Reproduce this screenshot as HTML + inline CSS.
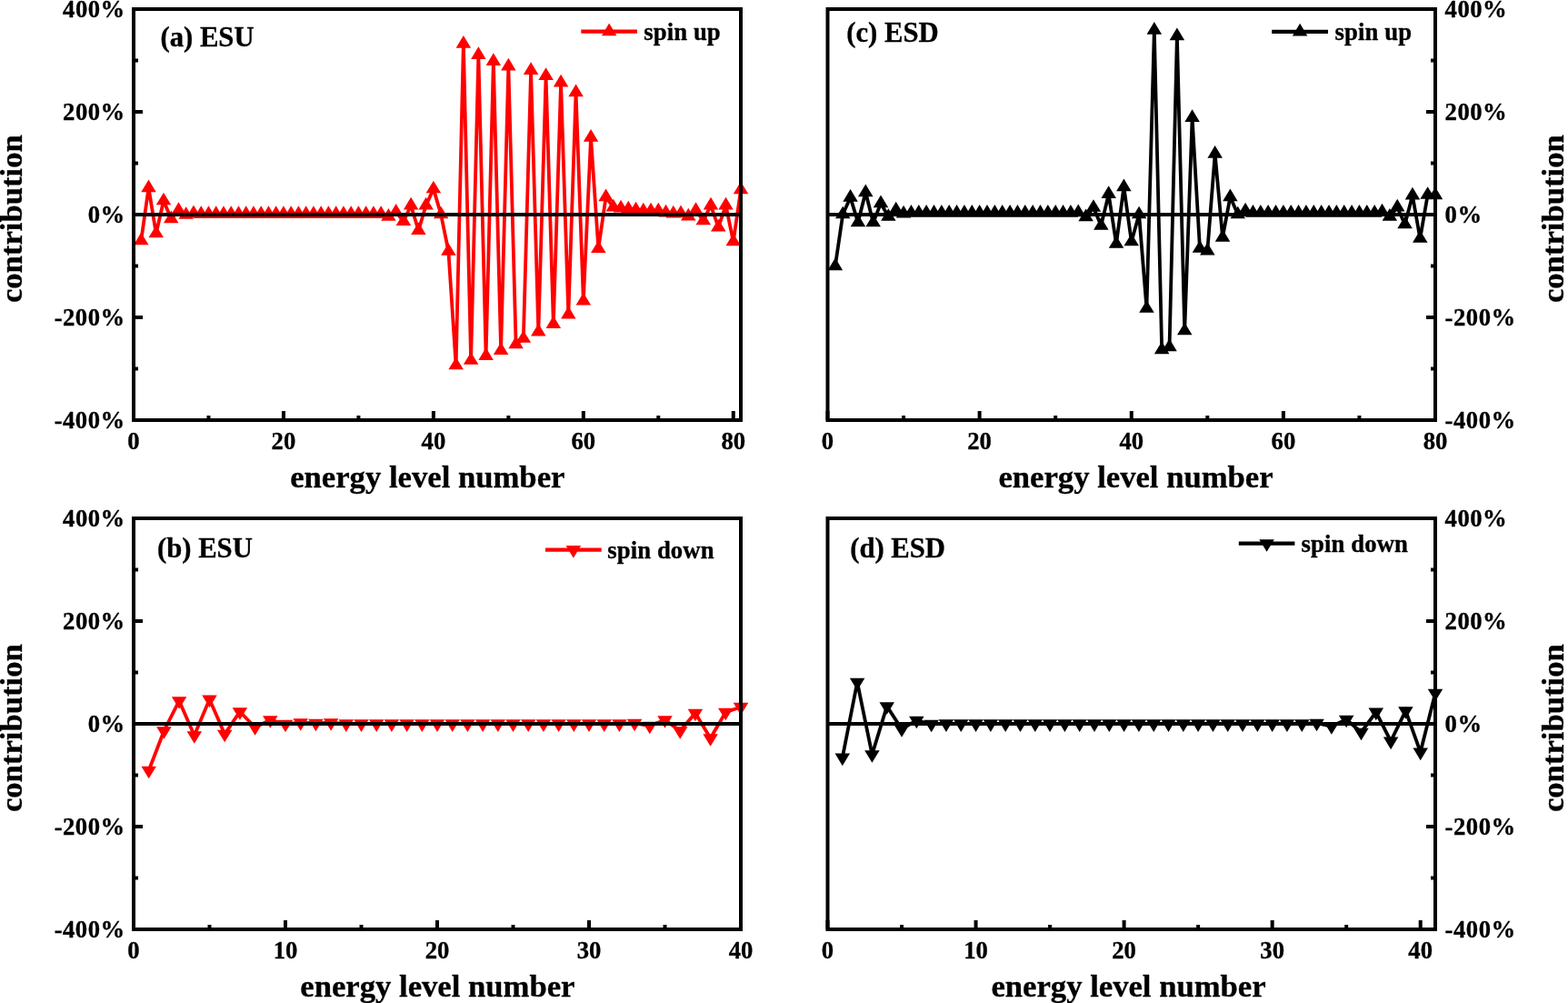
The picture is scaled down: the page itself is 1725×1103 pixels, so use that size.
<!DOCTYPE html>
<html lang="en"><head><meta charset="utf-8"><title>Contribution vs energy level number</title>
<style>html,body{margin:0;padding:0;background:#fff}body{width:1725px;height:1103px;overflow:hidden}svg{display:block}text{font-family:'Liberation Serif', serif;font-weight:bold;fill:#000;stroke:#000;stroke-width:0.35px;stroke-linejoin:round}.t{font-size:26.67px}.ax{font-size:34.67px}.pl{font-size:30.67px}</style></head><body>
<svg width="1725" height="1103" viewBox="0 0 1725 1103">
<rect width="1725" height="1103" fill="#fff"/>
<g id="panel-a">
<polyline fill="none" stroke="#ff0000" stroke-width="3.8" stroke-linejoin="miter" stroke-miterlimit="3" points="155.25,264.78 163.49,206.58 171.74,256.78 179.99,220.78 188.23,240.58 196.48,231.38 204.73,236.28 212.98,234.58 221.22,235.38 229.47,235.38 237.72,235.38 245.96,235.38 254.21,235.38 262.46,235.38 270.7,235.38 278.95,235.38 287.2,235.38 295.44,235.38 303.69,235.38 311.94,235.38 320.19,235.38 328.43,235.38 336.68,235.38 344.93,235.38 353.17,235.38 361.42,235.38 369.67,235.38 377.91,235.38 386.16,235.38 394.41,235.38 402.65,235.38 410.9,235.38 419.15,235.38 427.4,238.18 435.64,233.18 443.89,243.48 452.14,225.98 460.38,253.48 468.63,225.98 476.88,207.78 485.12,235.78 493.37,276.28 501.62,401.78 509.86,48.18 518.11,396.28 526.36,60.48 534.6,391.48 542.85,67.48 551.1,385.48 559.35,72.98 567.59,378.58 575.84,372.28 584.09,77.48 592.33,364.88 600.58,83.48 608.83,356.48 617.07,90.88 625.32,345.98 633.57,101.58 641.81,330.88 650.06,151.08 658.31,273.38 666.56,216.58 674.8,227.98 683.05,228.98 691.3,229.98 699.54,230.98 707.79,231.98 716.04,231.98 724.28,231.98 732.53,233.98 740.78,234.98 749.02,234.58 757.27,237.88 765.52,231.38 773.77,242.58 782.01,225.98 790.26,249.98 798.51,225.98 806.75,265.58 815,208.78"/>
<path fill="#ff0000" d="M155.25 255.65 L147 269.35 L163.5 269.35ZM163.49 197.45 L155.24 211.15 L171.74 211.15ZM171.74 247.65 L163.49 261.35 L179.99 261.35ZM179.99 211.65 L171.74 225.35 L188.24 225.35ZM188.23 231.45 L179.98 245.15 L196.48 245.15ZM196.48 222.25 L188.23 235.95 L204.73 235.95ZM204.73 227.15 L196.48 240.85 L212.98 240.85ZM212.98 225.45 L204.73 239.15 L221.23 239.15ZM221.22 226.25 L212.97 239.95 L229.47 239.95ZM229.47 226.25 L221.22 239.95 L237.72 239.95ZM237.72 226.25 L229.47 239.95 L245.97 239.95ZM245.96 226.25 L237.71 239.95 L254.21 239.95ZM254.21 226.25 L245.96 239.95 L262.46 239.95ZM262.46 226.25 L254.21 239.95 L270.71 239.95ZM270.7 226.25 L262.45 239.95 L278.95 239.95ZM278.95 226.25 L270.7 239.95 L287.2 239.95ZM287.2 226.25 L278.95 239.95 L295.45 239.95ZM295.44 226.25 L287.19 239.95 L303.69 239.95ZM303.69 226.25 L295.44 239.95 L311.94 239.95ZM311.94 226.25 L303.69 239.95 L320.19 239.95ZM320.19 226.25 L311.94 239.95 L328.44 239.95ZM328.43 226.25 L320.18 239.95 L336.68 239.95ZM336.68 226.25 L328.43 239.95 L344.93 239.95ZM344.93 226.25 L336.68 239.95 L353.18 239.95ZM353.17 226.25 L344.92 239.95 L361.42 239.95ZM361.42 226.25 L353.17 239.95 L369.67 239.95ZM369.67 226.25 L361.42 239.95 L377.92 239.95ZM377.91 226.25 L369.66 239.95 L386.16 239.95ZM386.16 226.25 L377.91 239.95 L394.41 239.95ZM394.41 226.25 L386.16 239.95 L402.66 239.95ZM402.65 226.25 L394.4 239.95 L410.9 239.95ZM410.9 226.25 L402.65 239.95 L419.15 239.95ZM419.15 226.25 L410.9 239.95 L427.4 239.95ZM427.4 229.05 L419.15 242.75 L435.65 242.75ZM435.64 224.05 L427.39 237.75 L443.89 237.75ZM443.89 234.35 L435.64 248.05 L452.14 248.05ZM452.14 216.85 L443.89 230.55 L460.39 230.55ZM460.38 244.35 L452.13 258.05 L468.63 258.05ZM468.63 216.85 L460.38 230.55 L476.88 230.55ZM476.88 198.65 L468.63 212.35 L485.13 212.35ZM485.12 226.65 L476.87 240.35 L493.37 240.35ZM493.37 267.15 L485.12 280.85 L501.62 280.85ZM501.62 392.65 L493.37 406.35 L509.87 406.35ZM509.86 39.05 L501.61 52.75 L518.11 52.75ZM518.11 387.15 L509.86 400.85 L526.36 400.85ZM526.36 51.35 L518.11 65.05 L534.61 65.05ZM534.6 382.35 L526.35 396.05 L542.85 396.05ZM542.85 58.35 L534.6 72.05 L551.1 72.05ZM551.1 376.35 L542.85 390.05 L559.35 390.05ZM559.35 63.85 L551.1 77.55 L567.6 77.55ZM567.59 369.45 L559.34 383.15 L575.84 383.15ZM575.84 363.15 L567.59 376.85 L584.09 376.85ZM584.09 68.35 L575.84 82.05 L592.34 82.05ZM592.33 355.75 L584.08 369.45 L600.58 369.45ZM600.58 74.35 L592.33 88.05 L608.83 88.05ZM608.83 347.35 L600.58 361.05 L617.08 361.05ZM617.07 81.75 L608.82 95.45 L625.32 95.45ZM625.32 336.85 L617.07 350.55 L633.57 350.55ZM633.57 92.45 L625.32 106.15 L641.82 106.15ZM641.81 321.75 L633.56 335.45 L650.06 335.45ZM650.06 141.95 L641.81 155.65 L658.31 155.65ZM658.31 264.25 L650.06 277.95 L666.56 277.95ZM666.56 207.45 L658.31 221.15 L674.81 221.15ZM674.8 218.85 L666.55 232.55 L683.05 232.55ZM683.05 219.85 L674.8 233.55 L691.3 233.55ZM691.3 220.85 L683.05 234.55 L699.55 234.55ZM699.54 221.85 L691.29 235.55 L707.79 235.55ZM707.79 222.85 L699.54 236.55 L716.04 236.55ZM716.04 222.85 L707.79 236.55 L724.29 236.55ZM724.28 222.85 L716.03 236.55 L732.53 236.55ZM732.53 224.85 L724.28 238.55 L740.78 238.55ZM740.78 225.85 L732.53 239.55 L749.03 239.55ZM749.02 225.45 L740.77 239.15 L757.27 239.15ZM757.27 228.75 L749.02 242.45 L765.52 242.45ZM765.52 222.25 L757.27 235.95 L773.77 235.95ZM773.77 233.45 L765.52 247.15 L782.02 247.15ZM782.01 216.85 L773.76 230.55 L790.26 230.55ZM790.26 240.85 L782.01 254.55 L798.51 254.55ZM798.51 216.85 L790.26 230.55 L806.76 230.55ZM806.75 256.45 L798.5 270.15 L815 270.15ZM815 199.65 L806.75 213.35 L823.25 213.35Z"/>
<line x1="147" y1="236" x2="815" y2="236" stroke="#000" stroke-width="4"/>
<rect x="147" y="10" width="668" height="452" fill="none" stroke="#000" stroke-width="4"/>
<path d="M147 462 V452 M311.94 462 V452 M476.88 462 V452 M641.81 462 V452 M806.75 462 V452 M229.47 462 V457 M394.41 462 V457 M559.35 462 V457 M724.28 462 V457 M147 10 H157 M147 66.5 H152 M147 123 H157 M147 179.5 H152 M147 236 H157 M147 292.5 H152 M147 349 H157 M147 405.5 H152 M147 462 H157" stroke="#000" stroke-width="4" fill="none"/>
<text class="t" x="147" y="493.8" text-anchor="middle">0</text>
<text class="t" x="311.94" y="493.8" text-anchor="middle">20</text>
<text class="t" x="476.88" y="493.8" text-anchor="middle">40</text>
<text class="t" x="641.81" y="493.8" text-anchor="middle">60</text>
<text class="t" x="806.75" y="493.8" text-anchor="middle">80</text>
<text class="t" x="137.7" y="18.5" text-anchor="end" letter-spacing="0.5">400%</text>
<text class="t" x="137.7" y="131.5" text-anchor="end" letter-spacing="0.5">200%</text>
<text class="t" x="137.7" y="244.5" text-anchor="end" letter-spacing="0.5">0%</text>
<text class="t" x="137.7" y="357.5" text-anchor="end" letter-spacing="0.5">-200%</text>
<text class="t" x="137.7" y="470.5" text-anchor="end" letter-spacing="0.5">-400%</text>
<text class="ax" x="470.3" y="535.8" text-anchor="middle">energy level number</text>
<text class="ax" transform="translate(24 240.7) rotate(-90)" text-anchor="middle">contribution</text>
<text class="pl" x="176.5" y="51">(a) ESU</text>
<line x1="639.3" y1="34.7" x2="701" y2="34.7" stroke="#ff0000" stroke-width="4.2"/>
<path fill="#ff0000" d="M670.15 25.57 L661.9 39.27 L678.4 39.27Z"/>
<text class="t" x="708.2" y="43.8" letter-spacing="0.12">spin up</text>
</g>
<g id="panel-c">
<polyline fill="none" stroke="#000000" stroke-width="3.8" stroke-linejoin="miter" stroke-miterlimit="3" points="918.86,292.58 927.21,235.78 935.57,217.08 943.92,244.58 952.28,211.58 960.64,244.78 968.99,223.58 977.35,238.28 985.71,230.98 994.06,234.98 1002.42,234.08 1010.77,234.08 1019.13,234.08 1027.49,234.08 1035.84,234.08 1044.2,234.08 1052.56,234.08 1060.91,234.08 1069.27,234.08 1077.62,234.08 1085.98,234.08 1094.34,234.08 1102.69,234.08 1111.05,234.08 1119.41,234.08 1127.76,234.08 1136.12,234.08 1144.47,234.08 1152.83,234.08 1161.19,234.08 1169.54,234.08 1177.9,234.08 1186.26,233.58 1194.61,238.68 1202.97,228.28 1211.33,248.08 1219.68,213.48 1228.04,268.28 1236.39,205.58 1244.75,265.78 1253.11,235.78 1261.46,339.28 1269.82,33.08 1278.17,384.58 1286.53,381.58 1294.89,39.68 1303.24,363.78 1311.6,129.48 1319.96,273.28 1328.31,275.88 1336.67,169.08 1345.03,261.08 1353.38,216.58 1361.74,235.78 1370.09,231.98 1378.45,234.08 1386.81,234.08 1395.16,234.08 1403.52,234.08 1411.88,234.08 1420.23,234.08 1428.59,234.08 1436.94,234.08 1445.3,234.08 1453.66,234.08 1462.01,234.08 1470.37,234.08 1478.72,234.08 1487.08,234.08 1495.44,234.08 1503.79,234.08 1512.15,234.08 1520.51,232.98 1528.86,238.08 1537.22,227.98 1545.57,246.68 1553.93,214.98 1562.29,262.28 1570.64,214.28 1579,214.78"/>
<path fill="#000000" d="M918.86 283.45 L910.61 297.15 L927.11 297.15ZM927.21 226.65 L918.96 240.35 L935.46 240.35ZM935.57 207.95 L927.32 221.65 L943.82 221.65ZM943.92 235.45 L935.67 249.15 L952.17 249.15ZM952.28 202.45 L944.03 216.15 L960.53 216.15ZM960.64 235.65 L952.39 249.35 L968.89 249.35ZM968.99 214.45 L960.74 228.15 L977.24 228.15ZM977.35 229.15 L969.1 242.85 L985.6 242.85ZM985.71 221.85 L977.46 235.55 L993.96 235.55ZM994.06 225.85 L985.81 239.55 L1002.31 239.55ZM1002.42 224.95 L994.17 238.65 L1010.67 238.65ZM1010.77 224.95 L1002.52 238.65 L1019.02 238.65ZM1019.13 224.95 L1010.88 238.65 L1027.38 238.65ZM1027.49 224.95 L1019.24 238.65 L1035.74 238.65ZM1035.84 224.95 L1027.59 238.65 L1044.09 238.65ZM1044.2 224.95 L1035.95 238.65 L1052.45 238.65ZM1052.56 224.95 L1044.31 238.65 L1060.81 238.65ZM1060.91 224.95 L1052.66 238.65 L1069.16 238.65ZM1069.27 224.95 L1061.02 238.65 L1077.52 238.65ZM1077.62 224.95 L1069.38 238.65 L1085.88 238.65ZM1085.98 224.95 L1077.73 238.65 L1094.23 238.65ZM1094.34 224.95 L1086.09 238.65 L1102.59 238.65ZM1102.69 224.95 L1094.44 238.65 L1110.94 238.65ZM1111.05 224.95 L1102.8 238.65 L1119.3 238.65ZM1119.41 224.95 L1111.16 238.65 L1127.66 238.65ZM1127.76 224.95 L1119.51 238.65 L1136.01 238.65ZM1136.12 224.95 L1127.87 238.65 L1144.37 238.65ZM1144.47 224.95 L1136.22 238.65 L1152.72 238.65ZM1152.83 224.95 L1144.58 238.65 L1161.08 238.65ZM1161.19 224.95 L1152.94 238.65 L1169.44 238.65ZM1169.54 224.95 L1161.29 238.65 L1177.79 238.65ZM1177.9 224.95 L1169.65 238.65 L1186.15 238.65ZM1186.26 224.45 L1178.01 238.15 L1194.51 238.15ZM1194.61 229.55 L1186.36 243.25 L1202.86 243.25ZM1202.97 219.15 L1194.72 232.85 L1211.22 232.85ZM1211.33 238.95 L1203.08 252.65 L1219.58 252.65ZM1219.68 204.35 L1211.43 218.05 L1227.93 218.05ZM1228.04 259.15 L1219.79 272.85 L1236.29 272.85ZM1236.39 196.45 L1228.14 210.15 L1244.64 210.15ZM1244.75 256.65 L1236.5 270.35 L1253 270.35ZM1253.11 226.65 L1244.86 240.35 L1261.36 240.35ZM1261.46 330.15 L1253.21 343.85 L1269.71 343.85ZM1269.82 23.95 L1261.57 37.65 L1278.07 37.65ZM1278.17 375.45 L1269.92 389.15 L1286.42 389.15ZM1286.53 372.45 L1278.28 386.15 L1294.78 386.15ZM1294.89 30.55 L1286.64 44.25 L1303.14 44.25ZM1303.24 354.65 L1294.99 368.35 L1311.49 368.35ZM1311.6 120.35 L1303.35 134.05 L1319.85 134.05ZM1319.96 264.15 L1311.71 277.85 L1328.21 277.85ZM1328.31 266.75 L1320.06 280.45 L1336.56 280.45ZM1336.67 159.95 L1328.42 173.65 L1344.92 173.65ZM1345.03 251.95 L1336.78 265.65 L1353.28 265.65ZM1353.38 207.45 L1345.13 221.15 L1361.63 221.15ZM1361.74 226.65 L1353.49 240.35 L1369.99 240.35ZM1370.09 222.85 L1361.84 236.55 L1378.34 236.55ZM1378.45 224.95 L1370.2 238.65 L1386.7 238.65ZM1386.81 224.95 L1378.56 238.65 L1395.06 238.65ZM1395.16 224.95 L1386.91 238.65 L1403.41 238.65ZM1403.52 224.95 L1395.27 238.65 L1411.77 238.65ZM1411.88 224.95 L1403.62 238.65 L1420.12 238.65ZM1420.23 224.95 L1411.98 238.65 L1428.48 238.65ZM1428.59 224.95 L1420.34 238.65 L1436.84 238.65ZM1436.94 224.95 L1428.69 238.65 L1445.19 238.65ZM1445.3 224.95 L1437.05 238.65 L1453.55 238.65ZM1453.66 224.95 L1445.41 238.65 L1461.91 238.65ZM1462.01 224.95 L1453.76 238.65 L1470.26 238.65ZM1470.37 224.95 L1462.12 238.65 L1478.62 238.65ZM1478.72 224.95 L1470.47 238.65 L1486.97 238.65ZM1487.08 224.95 L1478.83 238.65 L1495.33 238.65ZM1495.44 224.95 L1487.19 238.65 L1503.69 238.65ZM1503.79 224.95 L1495.54 238.65 L1512.04 238.65ZM1512.15 224.95 L1503.9 238.65 L1520.4 238.65ZM1520.51 223.85 L1512.26 237.55 L1528.76 237.55ZM1528.86 228.95 L1520.61 242.65 L1537.11 242.65ZM1537.22 218.85 L1528.97 232.55 L1545.47 232.55ZM1545.57 237.55 L1537.32 251.25 L1553.82 251.25ZM1553.93 205.85 L1545.68 219.55 L1562.18 219.55ZM1562.29 253.15 L1554.04 266.85 L1570.54 266.85ZM1570.64 205.15 L1562.39 218.85 L1578.89 218.85ZM1579 205.65 L1570.75 219.35 L1587.25 219.35Z"/>
<line x1="910.5" y1="236" x2="1579" y2="236" stroke="#000" stroke-width="4"/>
<rect x="910.5" y="10" width="668.5" height="452" fill="none" stroke="#000" stroke-width="4"/>
<path d="M910.5 462 V452 M1077.62 462 V452 M1244.75 462 V452 M1411.88 462 V452 M1579 462 V452 M994.06 462 V457 M1161.19 462 V457 M1328.31 462 V457 M1495.44 462 V457 M1579 10 H1569 M1579 66.5 H1574 M1579 123 H1569 M1579 179.5 H1574 M1579 236 H1569 M1579 292.5 H1574 M1579 349 H1569 M1579 405.5 H1574 M1579 462 H1569" stroke="#000" stroke-width="4" fill="none"/>
<text class="t" x="910.5" y="493.8" text-anchor="middle">0</text>
<text class="t" x="1077.62" y="493.8" text-anchor="middle">20</text>
<text class="t" x="1244.75" y="493.8" text-anchor="middle">40</text>
<text class="t" x="1411.88" y="493.8" text-anchor="middle">60</text>
<text class="t" x="1579" y="493.8" text-anchor="middle">80</text>
<text class="t" x="1589.6" y="18.5" letter-spacing="0.5">400%</text>
<text class="t" x="1589.6" y="131.5" letter-spacing="0.5">200%</text>
<text class="t" x="1589.6" y="244.5" letter-spacing="0.5">0%</text>
<text class="t" x="1589.6" y="357.5" letter-spacing="0.5">-200%</text>
<text class="t" x="1589.6" y="470.5" letter-spacing="0.5">-400%</text>
<text class="ax" x="1249.5" y="535.6" text-anchor="middle">energy level number</text>
<text class="ax" transform="translate(1720 240.7) rotate(-90)" text-anchor="middle">contribution</text>
<text class="pl" x="931.3" y="45.6">(c) ESD</text>
<line x1="1399.2" y1="34.85" x2="1461" y2="34.85" stroke="#000000" stroke-width="4.2"/>
<path fill="#000000" d="M1430.1 25.72 L1421.85 39.42 L1438.35 39.42Z"/>
<text class="t" x="1468.6" y="44.2" letter-spacing="0.12">spin up</text>
</g>
<g id="panel-b">
<polyline fill="none" stroke="#ff0000" stroke-width="3.8" stroke-linejoin="miter" stroke-miterlimit="3" points="163.7,847.22 180.4,803.72 197.1,770.72 213.8,808.72 230.5,769.02 247.2,807.22 263.9,782.72 280.6,799.72 297.3,791.72 314,796.22 330.7,794.72 347.4,795.22 364.1,794.72 380.8,795.92 397.5,795.92 414.2,795.92 430.9,795.92 447.6,795.92 464.3,795.92 481,795.92 497.7,795.92 514.4,795.92 531.1,795.92 547.8,795.92 564.5,795.92 581.2,795.92 597.9,795.92 614.6,795.92 631.3,795.92 648,795.92 664.7,795.92 681.4,795.92 698.1,795.22 714.8,798.22 731.5,791.72 748.2,803.72 764.9,784.22 781.6,811.72 798.3,783.22 815,777.42"/>
<path fill="#ff0000" d="M163.7 856.35 L155.45 842.65 L171.95 842.65ZM180.4 812.85 L172.15 799.15 L188.65 799.15ZM197.1 779.85 L188.85 766.15 L205.35 766.15ZM213.8 817.85 L205.55 804.15 L222.05 804.15ZM230.5 778.15 L222.25 764.45 L238.75 764.45ZM247.2 816.35 L238.95 802.65 L255.45 802.65ZM263.9 791.85 L255.65 778.15 L272.15 778.15ZM280.6 808.85 L272.35 795.15 L288.85 795.15ZM297.3 800.85 L289.05 787.15 L305.55 787.15ZM314 805.35 L305.75 791.65 L322.25 791.65ZM330.7 803.85 L322.45 790.15 L338.95 790.15ZM347.4 804.35 L339.15 790.65 L355.65 790.65ZM364.1 803.85 L355.85 790.15 L372.35 790.15ZM380.8 805.05 L372.55 791.35 L389.05 791.35ZM397.5 805.05 L389.25 791.35 L405.75 791.35ZM414.2 805.05 L405.95 791.35 L422.45 791.35ZM430.9 805.05 L422.65 791.35 L439.15 791.35ZM447.6 805.05 L439.35 791.35 L455.85 791.35ZM464.3 805.05 L456.05 791.35 L472.55 791.35ZM481 805.05 L472.75 791.35 L489.25 791.35ZM497.7 805.05 L489.45 791.35 L505.95 791.35ZM514.4 805.05 L506.15 791.35 L522.65 791.35ZM531.1 805.05 L522.85 791.35 L539.35 791.35ZM547.8 805.05 L539.55 791.35 L556.05 791.35ZM564.5 805.05 L556.25 791.35 L572.75 791.35ZM581.2 805.05 L572.95 791.35 L589.45 791.35ZM597.9 805.05 L589.65 791.35 L606.15 791.35ZM614.6 805.05 L606.35 791.35 L622.85 791.35ZM631.3 805.05 L623.05 791.35 L639.55 791.35ZM648 805.05 L639.75 791.35 L656.25 791.35ZM664.7 805.05 L656.45 791.35 L672.95 791.35ZM681.4 805.05 L673.15 791.35 L689.65 791.35ZM698.1 804.35 L689.85 790.65 L706.35 790.65ZM714.8 807.35 L706.55 793.65 L723.05 793.65ZM731.5 800.85 L723.25 787.15 L739.75 787.15ZM748.2 812.85 L739.95 799.15 L756.45 799.15ZM764.9 793.35 L756.65 779.65 L773.15 779.65ZM781.6 820.85 L773.35 807.15 L789.85 807.15ZM798.3 792.35 L790.05 778.65 L806.55 778.65ZM815 786.55 L806.75 772.85 L823.25 772.85Z"/>
<line x1="147" y1="796" x2="815" y2="796" stroke="#000" stroke-width="4"/>
<rect x="147" y="570" width="668" height="452" fill="none" stroke="#000" stroke-width="4"/>
<path d="M147 1022 V1012 M314 1022 V1012 M481 1022 V1012 M648 1022 V1012 M815 1022 V1012 M230.5 1022 V1017 M397.5 1022 V1017 M564.5 1022 V1017 M731.5 1022 V1017 M147 570 H157 M147 626.5 H152 M147 683 H157 M147 739.5 H152 M147 796 H157 M147 852.5 H152 M147 909 H157 M147 965.5 H152 M147 1022 H157" stroke="#000" stroke-width="4" fill="none"/>
<text class="t" x="147" y="1053.8" text-anchor="middle">0</text>
<text class="t" x="314" y="1053.8" text-anchor="middle">10</text>
<text class="t" x="481" y="1053.8" text-anchor="middle">20</text>
<text class="t" x="648" y="1053.8" text-anchor="middle">30</text>
<text class="t" x="815" y="1053.8" text-anchor="middle">40</text>
<text class="t" x="137.7" y="578.5" text-anchor="end" letter-spacing="0.5">400%</text>
<text class="t" x="137.7" y="691.5" text-anchor="end" letter-spacing="0.5">200%</text>
<text class="t" x="137.7" y="804.5" text-anchor="end" letter-spacing="0.5">0%</text>
<text class="t" x="137.7" y="917.5" text-anchor="end" letter-spacing="0.5">-200%</text>
<text class="t" x="137.7" y="1030.5" text-anchor="end" letter-spacing="0.5">-400%</text>
<text class="ax" x="481.4" y="1095.8" text-anchor="middle">energy level number</text>
<text class="ax" transform="translate(24 800.7) rotate(-90)" text-anchor="middle">contribution</text>
<text class="pl" x="173" y="612.8">(b) ESU</text>
<line x1="600" y1="604.6" x2="661.7" y2="604.6" stroke="#ff0000" stroke-width="4.2"/>
<path fill="#ff0000" d="M630.85 613.73 L622.6 600.03 L639.1 600.03Z"/>
<text class="t" x="668.2" y="613.8" letter-spacing="0.12">spin down</text>
</g>
<g id="panel-d">
<polyline fill="none" stroke="#000000" stroke-width="3.8" stroke-linejoin="miter" stroke-miterlimit="3" points="926.8,833.02 943.11,750.22 959.41,829.72 975.72,776.72 992.02,801.72 1008.33,792.22 1024.63,796.22 1040.94,795.92 1057.24,795.92 1073.55,795.92 1089.85,795.92 1106.16,795.92 1122.46,795.92 1138.77,795.92 1155.07,795.92 1171.38,795.92 1187.68,795.92 1203.99,795.92 1220.29,795.92 1236.6,795.92 1252.9,795.92 1269.21,795.92 1285.51,795.92 1301.82,795.92 1318.12,795.92 1334.43,795.92 1350.73,795.92 1367.04,795.92 1383.34,795.92 1399.65,795.92 1415.95,795.92 1432.26,795.92 1448.56,795.22 1464.87,798.72 1481.17,791.22 1497.48,805.22 1513.78,783.02 1530.09,815.02 1546.39,781.72 1562.7,827.02 1579,762.22"/>
<path fill="#000000" d="M926.8 842.15 L918.55 828.45 L935.05 828.45ZM943.11 759.35 L934.86 745.65 L951.36 745.65ZM959.41 838.85 L951.16 825.15 L967.66 825.15ZM975.72 785.85 L967.47 772.15 L983.97 772.15ZM992.02 810.85 L983.77 797.15 L1000.27 797.15ZM1008.33 801.35 L1000.08 787.65 L1016.58 787.65ZM1024.63 805.35 L1016.38 791.65 L1032.88 791.65ZM1040.94 805.05 L1032.69 791.35 L1049.19 791.35ZM1057.24 805.05 L1048.99 791.35 L1065.49 791.35ZM1073.55 805.05 L1065.3 791.35 L1081.8 791.35ZM1089.85 805.05 L1081.6 791.35 L1098.1 791.35ZM1106.16 805.05 L1097.91 791.35 L1114.41 791.35ZM1122.46 805.05 L1114.21 791.35 L1130.71 791.35ZM1138.77 805.05 L1130.52 791.35 L1147.02 791.35ZM1155.07 805.05 L1146.82 791.35 L1163.32 791.35ZM1171.38 805.05 L1163.13 791.35 L1179.63 791.35ZM1187.68 805.05 L1179.43 791.35 L1195.93 791.35ZM1203.99 805.05 L1195.74 791.35 L1212.24 791.35ZM1220.29 805.05 L1212.04 791.35 L1228.54 791.35ZM1236.6 805.05 L1228.35 791.35 L1244.85 791.35ZM1252.9 805.05 L1244.65 791.35 L1261.15 791.35ZM1269.21 805.05 L1260.96 791.35 L1277.46 791.35ZM1285.51 805.05 L1277.26 791.35 L1293.76 791.35ZM1301.82 805.05 L1293.57 791.35 L1310.07 791.35ZM1318.12 805.05 L1309.87 791.35 L1326.37 791.35ZM1334.43 805.05 L1326.18 791.35 L1342.68 791.35ZM1350.73 805.05 L1342.48 791.35 L1358.98 791.35ZM1367.04 805.05 L1358.79 791.35 L1375.29 791.35ZM1383.34 805.05 L1375.09 791.35 L1391.59 791.35ZM1399.65 805.05 L1391.4 791.35 L1407.9 791.35ZM1415.95 805.05 L1407.7 791.35 L1424.2 791.35ZM1432.26 805.05 L1424.01 791.35 L1440.51 791.35ZM1448.56 804.35 L1440.31 790.65 L1456.81 790.65ZM1464.87 807.85 L1456.62 794.15 L1473.12 794.15ZM1481.17 800.35 L1472.92 786.65 L1489.42 786.65ZM1497.48 814.35 L1489.23 800.65 L1505.73 800.65ZM1513.78 792.15 L1505.53 778.45 L1522.03 778.45ZM1530.09 824.15 L1521.84 810.45 L1538.34 810.45ZM1546.39 790.85 L1538.14 777.15 L1554.64 777.15ZM1562.7 836.15 L1554.45 822.45 L1570.95 822.45ZM1579 771.35 L1570.75 757.65 L1587.25 757.65Z"/>
<line x1="910.5" y1="796" x2="1579" y2="796" stroke="#000" stroke-width="4"/>
<rect x="910.5" y="570" width="668.5" height="452" fill="none" stroke="#000" stroke-width="4"/>
<path d="M910.5 1022 V1012 M1073.55 1022 V1012 M1236.6 1022 V1012 M1399.65 1022 V1012 M1562.7 1022 V1012 M992.02 1022 V1017 M1155.07 1022 V1017 M1318.12 1022 V1017 M1481.17 1022 V1017 M1579 570 H1569 M1579 626.5 H1574 M1579 683 H1569 M1579 739.5 H1574 M1579 796 H1569 M1579 852.5 H1574 M1579 909 H1569 M1579 965.5 H1574 M1579 1022 H1569" stroke="#000" stroke-width="4" fill="none"/>
<text class="t" x="910.5" y="1053.8" text-anchor="middle">0</text>
<text class="t" x="1073.55" y="1053.8" text-anchor="middle">10</text>
<text class="t" x="1236.6" y="1053.8" text-anchor="middle">20</text>
<text class="t" x="1399.65" y="1053.8" text-anchor="middle">30</text>
<text class="t" x="1562.7" y="1053.8" text-anchor="middle">40</text>
<text class="t" x="1589.6" y="578.5" letter-spacing="0.5">400%</text>
<text class="t" x="1589.6" y="691.5" letter-spacing="0.5">200%</text>
<text class="t" x="1589.6" y="804.5" letter-spacing="0.5">0%</text>
<text class="t" x="1589.6" y="917.5" letter-spacing="0.5">-200%</text>
<text class="t" x="1589.6" y="1030.5" letter-spacing="0.5">-400%</text>
<text class="ax" x="1241.5" y="1095.8" text-anchor="middle">energy level number</text>
<text class="ax" transform="translate(1720 800.7) rotate(-90)" text-anchor="middle">contribution</text>
<text class="pl" x="935.2" y="612.8">(d) ESD</text>
<line x1="1362.8" y1="597.7" x2="1424.4" y2="597.7" stroke="#000000" stroke-width="4.2"/>
<path fill="#000000" d="M1393.6 606.83 L1385.35 593.13 L1401.85 593.13Z"/>
<text class="t" x="1431.6" y="606.8" letter-spacing="0.12">spin down</text>
</g>
</svg></body></html>
